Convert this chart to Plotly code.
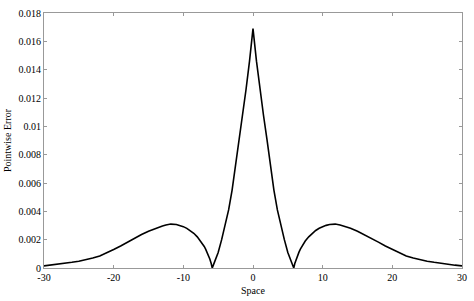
import plotly.graph_objects as go

space = [-30, -29, -28, -27, -26, -25, -24, -23, -22, -21, -20, -19, -18, -17, -16, -15,
         -14, -13, -12.5, -11.8, -11, -10.5, -10, -9.5, -9, -8.5, -8, -7.5, -7, -6.8, -6.6, -6.4, -6.2, -6.0, -5.85,
         -5.5, -5, -4.5, -4, -3.5, -3, -2.5, -2, -1.5, -1, -0.5, 0,
         0.5, 1, 1.5, 2, 2.5, 3, 3.5, 4, 4.5, 5, 5.5, 5.85,
         6.0, 6.2, 6.4, 6.6, 6.8, 7, 7.5, 8, 8.5, 9, 9.5, 10, 10.5, 11, 11.8, 12.5, 13, 14,
         15, 16, 17, 18, 19, 20, 21, 22, 23, 24, 25, 26, 27, 28, 29, 30]
error = [0.00015, 0.0002, 0.00025, 0.00032, 0.0004, 0.00048, 0.00058, 0.0007, 0.00085, 0.00105, 0.0013, 0.00155, 0.00183, 0.0021, 0.00236, 0.0026,
         0.0028, 0.00297, 0.00304, 0.0031, 0.00307, 0.00301, 0.00292, 0.0028, 0.00265, 0.00245, 0.0022, 0.0019, 0.00152, 0.00133, 0.00112, 0.0009, 0.00064, 0.00032, 0.0,
         0.00045, 0.0011, 0.002, 0.003, 0.0041, 0.0055, 0.0072, 0.0091, 0.0108, 0.0126, 0.0146, 0.0169,
         0.0146, 0.0126, 0.0108, 0.0091, 0.0072, 0.0055, 0.0041, 0.003, 0.002, 0.0011, 0.00045, 0.0,
         0.00032, 0.00064, 0.0009, 0.00112, 0.00133, 0.00152, 0.0019, 0.0022, 0.00245, 0.00265, 0.0028, 0.00292, 0.00301, 0.00307, 0.0031, 0.00304, 0.00297, 0.0028,
         0.0026, 0.00236, 0.0021, 0.00183, 0.00155, 0.0013, 0.00105, 0.00085, 0.0007, 0.00058, 0.00048, 0.0004, 0.00032, 0.00025, 0.0002, 0.00015]

x_ticks = [-30, -20, -10, 0, 10, 20, 30]
x_tick_labels = ["-30", "-20", "-10", "0", "10", "20", "30"]
y_ticks = [0, 0.002, 0.004, 0.006, 0.008, 0.01, 0.012, 0.014, 0.016, 0.018]
y_tick_labels = ["0", "0.002", "0.004", "0.006", "0.008", "0.01", "0.012", "0.014", "0.016", "0.018"]

fig = go.Figure()
fig.add_trace(go.Scatter(x=space, y=error, mode="lines",
                         line=dict(color="black", width=1.6), showlegend=False))

font = dict(family="Liberation Serif", size=10, color="black")
axis_common = dict(showline=True, linecolor="#999999", linewidth=1.2, mirror="ticks",
                   ticks="inside", ticklen=3, tickcolor="#999999", showgrid=False,
                   zeroline=False, tickfont=font)

fig.update_xaxes(range=[-30, 30], tickvals=x_ticks, ticktext=x_tick_labels,
                 title=dict(text="Space", font=font, standoff=4), **axis_common)
fig.update_yaxes(range=[0, 0.018], tickvals=y_ticks, ticktext=y_tick_labels,
                 title=dict(text="Pointwise Error", font=font, standoff=4), **axis_common)

fig.update_layout(width=474, height=301, margin=dict(l=43, r=10, t=7, b=31),
                  plot_bgcolor="white", paper_bgcolor="white")

fig.write_html("out.html")
